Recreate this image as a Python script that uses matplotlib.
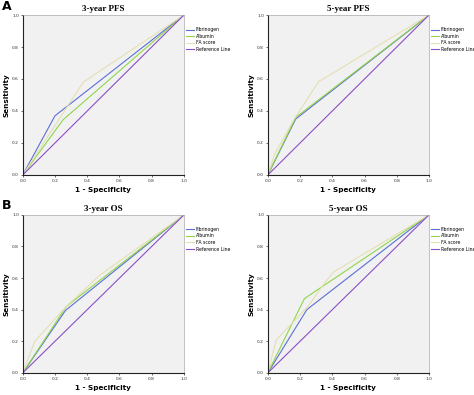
import matplotlib
matplotlib.use('Agg')
import matplotlib.pyplot as plt

# ROC points: (1 - specificity, sensitivity)
titles = ['3-year PFS', '5-year PFS', '3-year OS', '5-year OS']
series = ['Fibrinogen', 'Albumin', 'FA score', 'Reference Line']

fib_x = [[0, 0.20, 1], [0, 0.173, 1], [0, 0.265, 1], [0, 0.242, 1]]
fib_y = [[0, 0.37, 1], [0, 0.35, 1], [0, 0.395, 1], [0, 0.40, 1]]

alb_x = [[0, 0.25, 1], [0, 0.173, 1], [0, 0.27, 1], [0, 0.227, 1]]
alb_y = [[0, 0.345, 1], [0, 0.36, 1], [0, 0.42, 1], [0, 0.47, 1]]

fa_x = [[0, 0.20, 0.375, 1],
        [0, 0.042, 0.17, 0.315, 1],
        [0, 0.075, 0.27, 0.48, 1],
        [0, 0.053, 0.25, 0.36, 0.41, 1]]
fa_y = [[0, 0.31, 0.58, 1],
        [0, 0.13, 0.36, 0.583, 1],
        [0, 0.20, 0.42, 0.62, 1],
        [0, 0.21, 0.42, 0.58, 0.64, 1]]

ref_x = [0, 1]
ref_y = [0, 1]

colors = ['#5b6fd6', '#8fd64a', '#e4e0b0', '#8a4fc8']
ticks = [0.0, 0.2, 0.4, 0.6, 0.8, 1.0]

fig = plt.figure(figsize=(4.74, 3.95), dpi=100)
positions = [[0.048, 0.557, 0.340, 0.405],
             [0.565, 0.557, 0.340, 0.405],
             [0.048, 0.056, 0.340, 0.400],
             [0.565, 0.056, 0.340, 0.400]]

for i in range(4):
    ax = fig.add_axes(positions[i])
    ax.set_facecolor('#f1f1f1')
    ax.plot(fib_x[i], fib_y[i], color=colors[0], lw=0.8, label=series[0])
    ax.plot(alb_x[i], alb_y[i], color=colors[1], lw=0.8, label=series[1])
    ax.plot(fa_x[i], fa_y[i], color=colors[2], lw=0.8, label=series[2])
    ax.plot(ref_x, ref_y, color=colors[3], lw=0.8, label=series[3])
    ax.set_xlim(0, 1.0)
    ax.set_ylim(0, 1.0)
    ax.set_xticks(ticks)
    ax.set_yticks(ticks)
    ax.set_xticklabels(['%.1f' % t for t in ticks])
    ax.set_yticklabels(['%.1f' % t for t in ticks])
    ax.tick_params(labelsize=3.2, length=1.5, width=0.5, pad=1.2, colors='#333333')
    for s in ['left', 'bottom']:
        ax.spines[s].set_linewidth(0.8)
        ax.spines[s].set_color('#222222')
    for s in ['top', 'right']:
        ax.spines[s].set_linewidth(0.5)
        ax.spines[s].set_color('#aaaaaa')
    ax.set_title(titles[i], fontsize=6.5, fontweight='bold', family='Liberation Serif', pad=3)
    ax.set_xlabel('1 - Specificity', fontsize=5.2, fontweight='bold', labelpad=3)
    ax.set_ylabel('Sensitivity', fontsize=5.2, fontweight='bold', labelpad=2)
    ax.legend(loc='upper left', bbox_to_anchor=(1.01, 0.93), frameon=False,
              fontsize=3.3, handlelength=1.6, handletextpad=0.4,
              labelspacing=0.35, borderpad=0.2, borderaxespad=0)

fig.text(0.005, 1.0, 'A', fontsize=9, fontweight='bold', va='top')
fig.text(0.005, 0.497, 'B', fontsize=9, fontweight='bold', va='top')

fig.savefig('out.png', dpi=100)
